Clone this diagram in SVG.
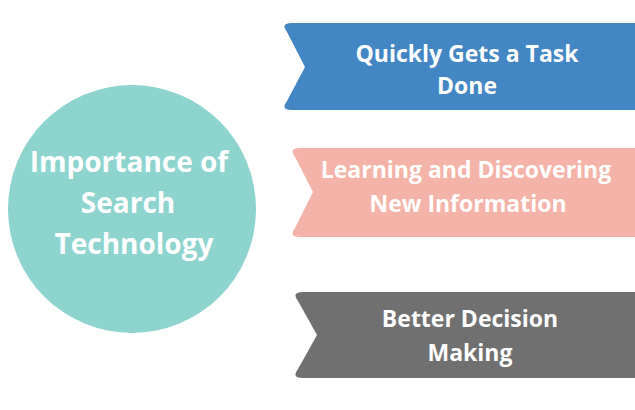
<svg xmlns="http://www.w3.org/2000/svg" width="635" height="410" viewBox="0 0 635 410">
<style>
.t{font-family:"Open Sans","Liberation Sans",sans-serif;font-weight:bold;fill:#ffffff;text-anchor:middle}
.r{font-size:23px}
.c{font-size:28px}
</style>
<rect width="635" height="410" fill="#ffffff"/>
<g id="center">
<circle cx="132" cy="209" r="124" fill="#8DD4CF"/>
<text class="t c" x="129" y="172">Importance of</text>
<text class="t c" x="128" y="213">Search</text>
<text class="t c" x="134" y="254">Technology</text>
</g>
<g id="item1">
<path d="M292,23 H640 V110 H292 Q280,110 287,101 L305,67 L287,32 Q280,23 292,23 Z" fill="#4286C4"/>
<text class="t r" x="467" y="62">Quickly Gets a Task</text>
<text class="t r" x="467" y="94">Done</text>
</g>
<g id="item2">
<path d="M300,148 H640 V237 H300 Q288,237 295,228 L313,192 L295,157 Q288,148 300,148 Z" fill="#F4B3A8"/>
<text class="t r" x="466" y="178">Learning and Discovering</text>
<text class="t r" x="468" y="212">New Information</text>
</g>
<g id="item3">
<path d="M303,292 H640 V378 H303 Q291,378 298,369 L317,335 L298,301 Q291,292 303,292 Z" fill="#707070"/>
<text class="t r" x="470" y="327">Better Decision</text>
<text class="t r" x="470" y="361">Making</text>
</g>
<g id="connectors"></g>
</svg>
